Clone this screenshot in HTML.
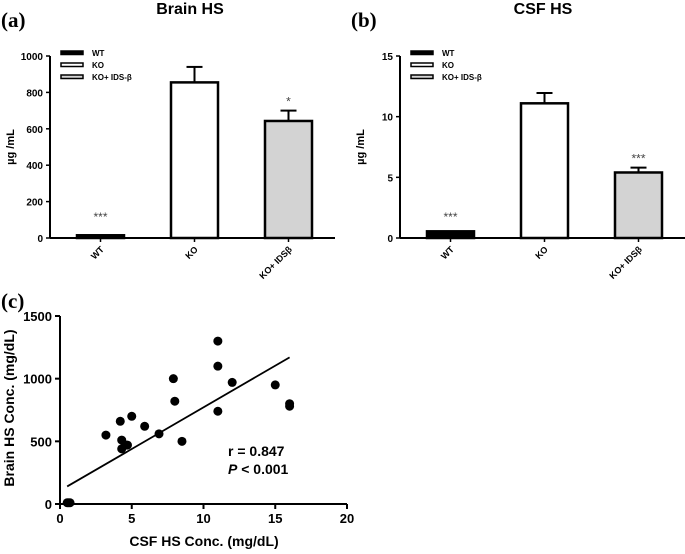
<!DOCTYPE html>
<html><head><meta charset="utf-8"><style>
body{margin:0;background:#fff;width:685px;height:549px;overflow:hidden}
svg text{font-family:"Liberation Sans",Arial,sans-serif}
svg text.serif{font-family:"Liberation Serif","Times New Roman",serif}
</style></head><body>
<svg id="s" width="685" height="549" xmlns="http://www.w3.org/2000/svg">
<text class="serif" x="1" y="27" font-weight="bold" font-size="21">(a)</text>
<text x="190" y="14" text-anchor="middle" font-weight="bold" font-size="16">Brain HS</text>
<text class="serif" x="351" y="27" font-weight="bold" font-size="21">(b)</text>
<text x="543" y="14" text-anchor="middle" font-weight="bold" font-size="16">CSF HS</text>
<text class="serif" x="1" y="308" font-weight="bold" font-size="21">(c)</text>
</svg>
<script>
const groups=["WT","KO","KO+ IDSβ"];
const brainVals=[15,855,643];
const brainErr=[0,85,57];
const brainStars=["***","","*"];
const brainTicks=[0,200,400,600,800,1000];
const csfVals=[0.55,11.1,5.4];
const csfErr=[0,0.85,0.4];
const csfStars=["***","","***"];
const csfTicks=[0,5,10,15];
const scX=[0.5,0.6,0.7,3.2,4.2,4.3,4.3,4.6,4.7,5,5.9,6.9,7.9,8,8.5,11,11,11,12,15,16,16];
const scY=[10,10,10,550,660,510,440,470,470,700,620,560,1000,820,500,1300,1100,740,970,950,800,780];
const fitX=[0.5,16];
const fitY=[140,1170];
const scXTicks=[0,5,10,15,20];
const scYTicks=[0,500,1000,1500];
const fills=["#000","#fff","#d3d3d3"];
const s=document.getElementById('s');
const NS="http://www.w3.org/2000/svg";
function el(t,a,txt){const e=document.createElementNS(NS,t);for(const k in a)e.setAttribute(k,a[k]);if(txt!==undefined)e.textContent=txt;s.appendChild(e);return e;}
function barPanel(ox,max,vals,errs,stars,ticks,pfx){
 const y0=238,yT=56;const ys=v=>y0-(v/max)*(y0-yT);
 let e=el('line',{x1:ox,y1:yT,x2:ox,y2:y0,stroke:'#000','stroke-width':2});
 
 e=el('line',{x1:ox,y1:y0,x2:ox+285,y2:y0,stroke:'#000','stroke-width':2});
 
 ticks.forEach(t=>{const y=ys(t);
  let l=el('line',{x1:ox-4,y1:y,x2:ox,y2:y,stroke:'#000','stroke-width':1.5});
  
  let tx=el('text',{x:ox-7,y:y+4,'text-anchor':'end','font-size':10,'font-weight':'bold'},String(t));
  });
 let yl=el('text',{x:0,y:0,transform:`translate(${ox-36},${(y0+yT)/2}) rotate(-90)`,'text-anchor':'middle','font-size':11,'font-weight':'bold'},'µg /mL');
 
 vals.forEach((v,i)=>{const x=ox+27+i*94,w=47,y=ys(v);
  if(errs[i]>0){let l=el('line',{x1:x+w/2,y1:y,x2:x+w/2,y2:ys(v+errs[i]),stroke:'#000','stroke-width':2});
   
   l=el('line',{x1:x+w/2-8,y1:ys(v+errs[i]),x2:x+w/2+8,y2:ys(v+errs[i]),stroke:'#000','stroke-width':2});
   }
  let r=el('rect',{x:x,y:y,width:w,height:Math.max(y0-y,2),fill:fills[i],stroke:'#000','stroke-width':2.5});
  
  if(stars[i]){let st=el('text',{x:x+w/2,y:ys(v+errs[i])-5,'text-anchor':'middle','font-size':12,fill:'#444'},stars[i]);
   if(i===0)st.setAttribute('y',y0-17);
   }
  let tk=el('line',{x1:x+w/2,y1:y0,x2:x+w/2,y2:y0+4,stroke:'#000','stroke-width':1.5});
  
  let xl=el('text',{x:0,y:0,transform:`translate(${x+w/2+4},${y0+12}) rotate(-45)`,'text-anchor':'end','font-size':9,'font-weight':'bold'},groups[i]);
  });
 ["WT","KO","KO+ IDS-β"].forEach((g,i)=>{
  let r=el('rect',{x:ox+11,y:51+i*12,width:22,height:3.5,fill:fills[i],stroke:'#000','stroke-width':1.5});
  
  let t=el('text',{x:ox+42,y:56+i*12,'font-size':8,'font-weight':'bold'},g);
  });
}
barPanel(50,1000,brainVals,brainErr,brainStars,brainTicks,'brain');
barPanel(400,15,csfVals,csfErr,csfStars,csfTicks,'csf');
const X0=60,X1=347,Y0=504,Y1=316;
const sx=v=>X0+v/20*(X1-X0), sy=v=>Y0-v/1500*(Y0-Y1);
let a=el('line',{x1:X0,y1:Y1,x2:X0,y2:Y0,stroke:'#000','stroke-width':2});

a=el('line',{x1:X0,y1:Y0,x2:X1,y2:Y0,stroke:'#000','stroke-width':2});

scXTicks.forEach(t=>{let l=el('line',{x1:sx(t),y1:Y0,x2:sx(t),y2:Y0+5,stroke:'#000','stroke-width':2});
 
 let tx=el('text',{x:sx(t),y:Y0+19,'text-anchor':'middle','font-size':13,'font-weight':'bold'},String(t));
 });
scYTicks.forEach(t=>{let l=el('line',{x1:X0-5,y1:sy(t),x2:X0,y2:sy(t),stroke:'#000','stroke-width':2});
 
 let tx=el('text',{x:X0-8,y:sy(t)+5,'text-anchor':'end','font-size':13,'font-weight':'bold'},String(t));
 });
let xt=el('text',{x:204,y:546,'text-anchor':'middle','font-size':14,'font-weight':'bold'},'CSF HS Conc. (mg/dL)');

let yt=el('text',{x:0,y:0,transform:`translate(14,${(Y0+Y1)/2-2}) rotate(-90)`,'text-anchor':'middle','font-size':14,'font-weight':'bold'},'Brain HS Conc. (mg/dL)');

let fl=el('line',{x1:sx(fitX[0]),y1:sy(fitY[0]),x2:sx(fitX[1]),y2:sy(fitY[1]),stroke:'#000','stroke-width':1.8});

scX.forEach((v,i)=>{let c=el('circle',{cx:sx(v),cy:sy(scY[i]),r:4.5,fill:'#000'});
 });
let r1=el('text',{x:228,y:456,'font-size':14,'font-weight':'bold'},'r = 0.847');

let p1=el('text',{x:228,y:474,'font-size':14,'font-weight':'bold'});

p1.innerHTML='<tspan font-style="italic">P</tspan> &lt; 0.001';
</script>
</body></html>
